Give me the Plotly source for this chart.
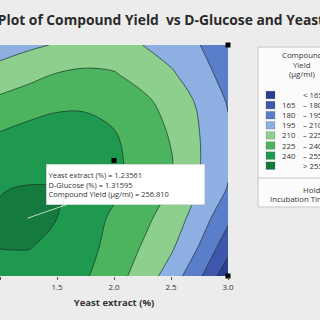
import plotly.graph_objects as go

# ---------------- data ----------------
yeast_extract = [1.0, 1.25, 1.5, 1.75, 2.0, 2.25, 2.5, 2.75, 3.0]
d_glucose = [1.0, 1.25, 1.5, 1.75, 2.0, 2.25, 2.5, 2.75, 3.0]
# rows follow d_glucose (bottom -> top), columns follow yeast_extract
compound_yield = [
    [248.0, 250.0, 248.0, 241.5, 231.0, 218.6, 203.3, 182.6, 154.0],
    [255.5, 255.5, 252.0, 245.0, 234.6, 224.0, 212.3, 194.0, 171.0],
    [256.5, 257.5, 255.0, 246.5, 237.6, 229.0, 218.0, 203.0, 183.0],
    [254.5, 256.0, 255.3, 249.5, 242.5, 233.5, 224.0, 209.0, 194.0],
    [246.5, 249.5, 250.0, 246.5, 242.5, 235.0, 226.0, 210.5, 198.0],
    [240.0, 243.5, 245.0, 244.0, 240.5, 233.0, 223.5, 210.0, 197.0],
    [229.0, 234.0, 237.5, 238.0, 234.0, 229.0, 219.0, 208.0, 194.0],
    [215.0, 220.0, 225.5, 227.5, 226.0, 219.0, 212.0, 201.0, 189.0],
    [204.0, 207.5, 211.0, 215.0, 215.0, 210.0, 203.0, 195.3, 184.0],
]
level_start, level_end, level_step = 165, 255, 15
legend_labels = [("", "< 165"), ("165", "– 180"), ("180", "– 195"), ("195", "– 210"),
                 ("210", "– 225"), ("225", "– 240"), ("240", "– 255"), ("", "> 255")]
band_colors = ["#2c3d8f", "#3e57ad", "#5b7ecb", "#8eafe2",
               "#8dcf8d", "#4cb35f", "#1f9850", "#147a3e"]
design_x = [2.0, 3.0, 3.0]
design_y = [2.0, 3.0, 1.0]
flag_x, flag_y = 1.24, 1.5
flag_text = ["Yeast extract (%) = 1.23561", "D-Glucose (%) = 1.31595",
             "Compound Yield (μg/ml) = 256.810"]
x_ticks = [1.0, 1.5, 2.0, 2.5, 3.0]

# ---------------- figure ----------------
W, H = 320, 320
L, R, T, B = 0, 228, 45, 276


def px(xp):
    return (xp - L) / (R - L)


def py(yp):
    return (B - yp) / (B - T)


n = len(band_colors)
colorscale = [[i / (n - 1), c] for i, c in enumerate(band_colors)]

fig = go.Figure()
fig.add_trace(go.Contour(
    x=yeast_extract, y=d_glucose, z=compound_yield,
    contours=dict(start=level_start, end=level_end, size=level_step, coloring="fill"),
    colorscale=colorscale, showscale=False,
    line=dict(color="rgba(25,45,35,0.75)", width=0.9, smoothing=1.0),
    hoverinfo="skip",
))
fig.add_trace(go.Scatter(
    x=design_x, y=design_y, mode="markers",
    marker=dict(symbol="square", size=5, color="black"),
    cliponaxis=False, hoverinfo="skip", showlegend=False,
))

shapes = []
annotations = []
txt = dict(family="Open Sans", size=7.8, color="#333333")

# title
annotations.append(dict(
    xref="paper", yref="paper", x=px(157), y=py(19), xanchor="center", yanchor="middle",
    text="<b>Contour Plot of Compound Yield&nbsp; vs D-Glucose and Yeast extract</b>",
    showarrow=False, font=dict(family="Open Sans", size=13.8, color="#2a2a2a"),
))

# flag / tooltip
annotations.append(dict(
    x=flag_x, y=flag_y, xref="x", yref="y",
    text="<br>".join(flag_text), align="left",
    showarrow=True, arrowhead=0, arrowwidth=1, arrowcolor="rgba(235,245,235,0.8)",
    ax=98, ay=-34, xanchor="center", yanchor="middle",
    bgcolor="white", bordercolor="rgba(200,200,200,0.9)", borderwidth=0.5,
    width=154, height=36, borderpad=2,
    font=dict(family="Open Sans", size=7.5, color="#333333"),
))

# legend box
shapes.append(dict(type="rect", xref="paper", yref="paper",
                   x0=px(258), x1=px(330), y0=py(207), y1=py(47),
                   fillcolor="#fbfbfb", line=dict(color="#c8c8c8", width=1)))
shapes.append(dict(type="line", xref="paper", yref="paper",
                   x0=px(258), x1=px(330), y0=py(178), y1=py(178),
                   line=dict(color="#c8c8c8", width=1)))
for i, line in enumerate(["Compound", "Yield", "(μg/ml)"]):
    annotations.append(dict(xref="paper", yref="paper", x=px(302), y=py(55 + 9.5 * i),
                            text=line, showarrow=False, xanchor="center", yanchor="middle",
                            font=txt))
for i, (lab_a, lab_b) in enumerate(legend_labels):
    yc = 95 + 10.1 * i
    shapes.append(dict(type="rect", xref="paper", yref="paper",
                       x0=px(266), x1=px(275), y0=py(yc + 3.8), y1=py(yc - 3.8),
                       fillcolor=band_colors[i], line=dict(color="rgba(0,0,0,0.25)", width=0.5)))
    if lab_a:
        annotations.append(dict(xref="paper", yref="paper", x=px(298), y=py(yc),
                                text=lab_a, showarrow=False, xanchor="right", yanchor="middle",
                                font=txt))
    annotations.append(dict(xref="paper", yref="paper", x=px(301), y=py(yc),
                            text=lab_b, showarrow=False, xanchor="left", yanchor="middle",
                            font=txt))
annotations.append(dict(xref="paper", yref="paper", x=px(324), y=py(190),
                        text="Hold Values", showarrow=False, xanchor="center", yanchor="middle",
                        font=txt))
annotations.append(dict(xref="paper", yref="paper", x=px(268), y=py(199),
                        text="Incubation Time", showarrow=False, xanchor="left", yanchor="middle",
                        font=txt))

fig.update_layout(
    width=W, height=H,
    margin=dict(l=L, r=W - R, t=T, b=H - B, pad=0),
    paper_bgcolor="#ececec", plot_bgcolor="#ececec",
    showlegend=False,
    shapes=shapes, annotations=annotations,
    xaxis=dict(range=[1.0, 3.0], tickvals=x_ticks, ticktext=[f"{v:.1f}" for v in x_ticks],
               ticks="outside", ticklen=3, tickcolor="#555", showgrid=False, zeroline=False,
               tickfont=dict(family="Open Sans", size=8, color="#333333"),
               title=dict(text="<b>Yeast extract (%)</b>", standoff=8,
                          font=dict(family="Open Sans", size=9.5, color="#333333")),
               showline=False, automargin=False),
    yaxis=dict(range=[1.0, 3.0], showticklabels=False, showgrid=False, zeroline=False,
               ticks=""),
)

fig.write_html("out.html")
